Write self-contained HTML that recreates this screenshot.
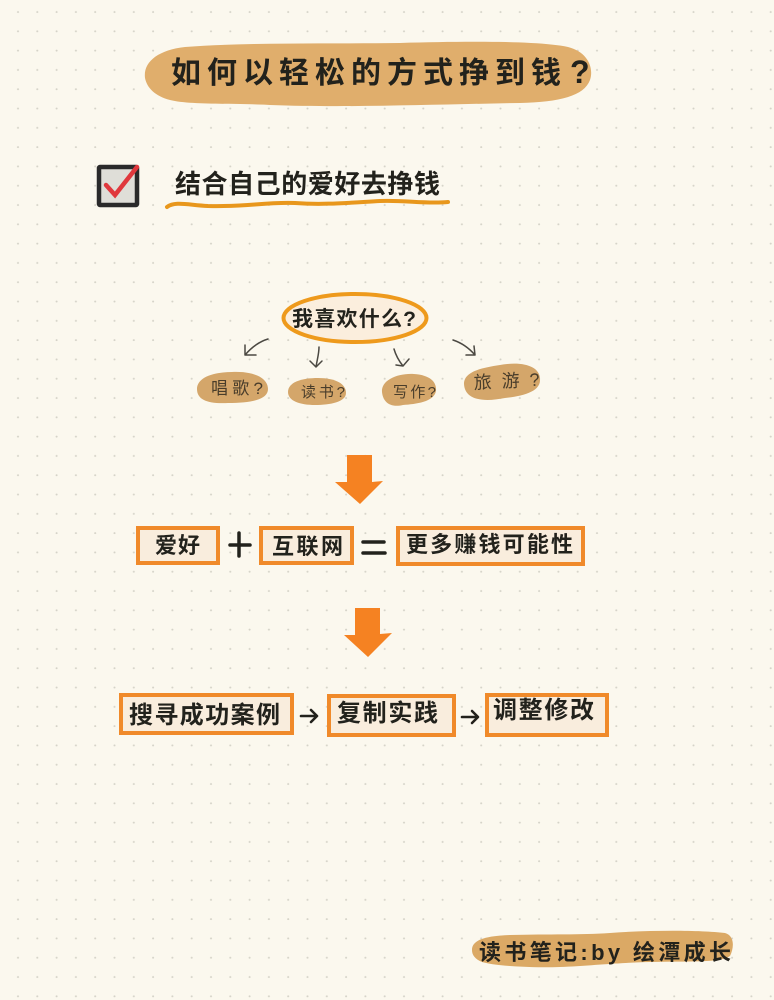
<!DOCTYPE html>
<html lang="zh">
<head>
<meta charset="utf-8">
<title>如何以轻松的方式挣到钱?</title>
<style>
html,body{margin:0;padding:0;background:#fbf8ee;}
svg{display:block;}
text{font-family:"Liberation Sans","Noto Sans CJK SC",sans-serif;fill:#24211e;}
.b{font-weight:700;}
.t{font-weight:400;fill:#4a3d2c;}
</style>
</head>
<body>
<svg width="774" height="1000" viewBox="0 0 774 1000" xmlns="http://www.w3.org/2000/svg">
<defs>
<pattern id="dots" x="8.5" y="2.5" width="19.3" height="19.3" patternUnits="userSpaceOnUse">
<circle cx="9.5" cy="9.5" r="1" fill="#d5d3c8"/>
</pattern>
<filter id="soft" x="-5%" y="-5%" width="110%" height="110%"><feGaussianBlur stdDeviation="0.35"/></filter>
</defs>
<rect width="774" height="1000" fill="#fbf8ee"/>
<rect width="774" height="1000" fill="url(#dots)"/>

<g filter="url(#soft)">
<!-- title -->
<path d="M145 78C143 62 158 50 185 47C250 42 330 44 400 43C470 41 540 41 568 47C588 52 594 68 590 80C584 96 560 102 520 103C450 104 350 108 270 105C230 103 190 105 170 100C155 96 147 88 145 78Z" fill="#e0ae6c"/>
<text class="b" x="171" y="83" font-size="30" textLength="390" lengthAdjust="spacing">如何以轻松的方式挣到钱</text>
<text class="b" x="570" y="83" font-size="32">?</text>

<!-- checkbox -->
<rect x="99" y="167" width="38" height="38" fill="#dfded8" stroke="#2b2b2b" stroke-width="4.5" rx="1"/>
<path d="M106 185L115 195L137 167" fill="none" stroke="#e0383e" stroke-width="4.5" stroke-linecap="round" stroke-linejoin="miter"/>

<!-- subtitle -->
<text class="b" x="175" y="193" font-size="26" textLength="265" lengthAdjust="spacing">结合自己的爱好去挣钱</text>
<path d="M167 207C175 201 188 205 208 206C250 207 262 202 295 203C322 205 345 203 380 201C405 200 425 204 448 202" fill="none" stroke="#e8971f" stroke-width="4" stroke-linecap="round"/>

<!-- mind map -->
<ellipse cx="355" cy="318" rx="71.5" ry="24" fill="#fbeedd" stroke="#ee9a1e" stroke-width="4"/>
<text class="b" x="292" y="326" font-size="21" textLength="124" lengthAdjust="spacing">我喜欢什么?</text>

<g fill="none" stroke="#4b4843" stroke-width="1.5" stroke-linecap="round" stroke-linejoin="round">
<path d="M268 339C258 342 251 348 245 355M245 345L245 355L256 355"/>
<path d="M319 347C319 354 317 360 316 367M310 361L316 367L322 361"/>
<path d="M394 349C396 356 399 361 403 366M396 365L403 366L409 359"/>
<path d="M453 340C462 343 469 348 475 355M474 346L475 355L466 355"/>
</g>

<path d="M197 389C197 378 212 372 232 372C254 371 268 378 268 389C268 400 250 403 228 403C208 404 197 400 197 389Z" fill="#d4a66a"/>
<path d="M288 392C288 382 302 378 318 378C336 378 346 384 346 393C346 402 330 405 315 405C300 405 288 401 288 392Z" fill="#d4a66a"/>
<path d="M382 392C381 380 398 373 414 374C430 375 437 382 436 391C434 402 416 404 403 405C390 408 383 402 382 392Z" fill="#d4a66a"/>
<path d="M464 384C464 372 480 368 500 365C522 361 540 366 540 379C541 392 522 396 505 398C485 402 465 401 464 384Z" fill="#d4a66a"/>

<text class="t" x="211" y="394" font-size="17" textLength="52" lengthAdjust="spacing">唱歌?</text>
<text class="t" x="301" y="397" font-size="15" textLength="44" lengthAdjust="spacing">读书?</text>
<text class="t" x="393" y="397" font-size="15" textLength="43" lengthAdjust="spacing">写作?</text>
<text class="t" x="474" y="389" font-size="18" textLength="66" lengthAdjust="spacing" transform="rotate(-3 474 389)">旅游?</text>

<!-- arrows -->
<path d="M347 455L372 455L372 482L383 481L360 504L335 482L347 482Z" fill="#f58220"/>
<path d="M355 608L380 608L380 634L392 633L368 657L344 635L355 635Z" fill="#f58220"/>

<!-- row 1 -->
<g fill="#f9eddd" stroke="#f08a2c" stroke-width="4">
<rect x="138" y="528" width="80" height="35"/>
<rect x="261" y="528" width="91" height="35"/>
<rect x="398" y="528" width="185" height="36"/>
</g>
<text class="b" x="155" y="553" font-size="22" textLength="45" lengthAdjust="spacing">爱好</text>
<text class="b" x="272" y="554" font-size="22" textLength="71" lengthAdjust="spacing">互联网</text>
<text class="b" x="406" y="552" font-size="22" textLength="167" lengthAdjust="spacing">更多赚钱可能性</text>
<path d="M230 545H250M239 533V556" fill="none" stroke="#24211e" stroke-width="3.5" stroke-linecap="round"/>
<path d="M363 542H384M363 553H385" fill="none" stroke="#24211e" stroke-width="3.5" stroke-linecap="round"/>

<!-- row 2 -->
<g fill="#f9eddd" stroke="#f08a2c" stroke-width="4">
<rect x="121" y="695" width="171" height="38"/>
<rect x="329" y="696" width="125" height="39"/>
<rect x="487" y="695" width="120" height="40"/>
</g>
<text class="b" x="129" y="723" font-size="24" textLength="151" lengthAdjust="spacing">搜寻成功案例</text>
<text class="b" x="337" y="721" font-size="24" textLength="101" lengthAdjust="spacing">复制实践</text>
<text class="b" x="493" y="718" font-size="24" textLength="101" lengthAdjust="spacing">调整修改</text>
<g fill="none" stroke="#24211e" stroke-width="2.6" stroke-linecap="round" stroke-linejoin="round">
<path d="M301 716H316M311 710L317 716L311 722"/>
<path d="M462 717H477M472 711L478 717L472 723"/>
</g>

<!-- footer -->
<path d="M472 950C472 940 485 936 510 935C550 934 580 935 610 933C650 930 700 930 725 933C735 936 734 948 730 956C720 963 690 961 650 962C610 963 590 966 560 967C530 968 495 966 482 962C475 959 472 955 472 950Z" fill="#dba965"/>
<text class="b" x="479" y="960" font-size="22" textLength="252" lengthAdjust="spacing">读书笔记:by 绘潭成长</text>
</g>
</svg>
</body>
</html>
